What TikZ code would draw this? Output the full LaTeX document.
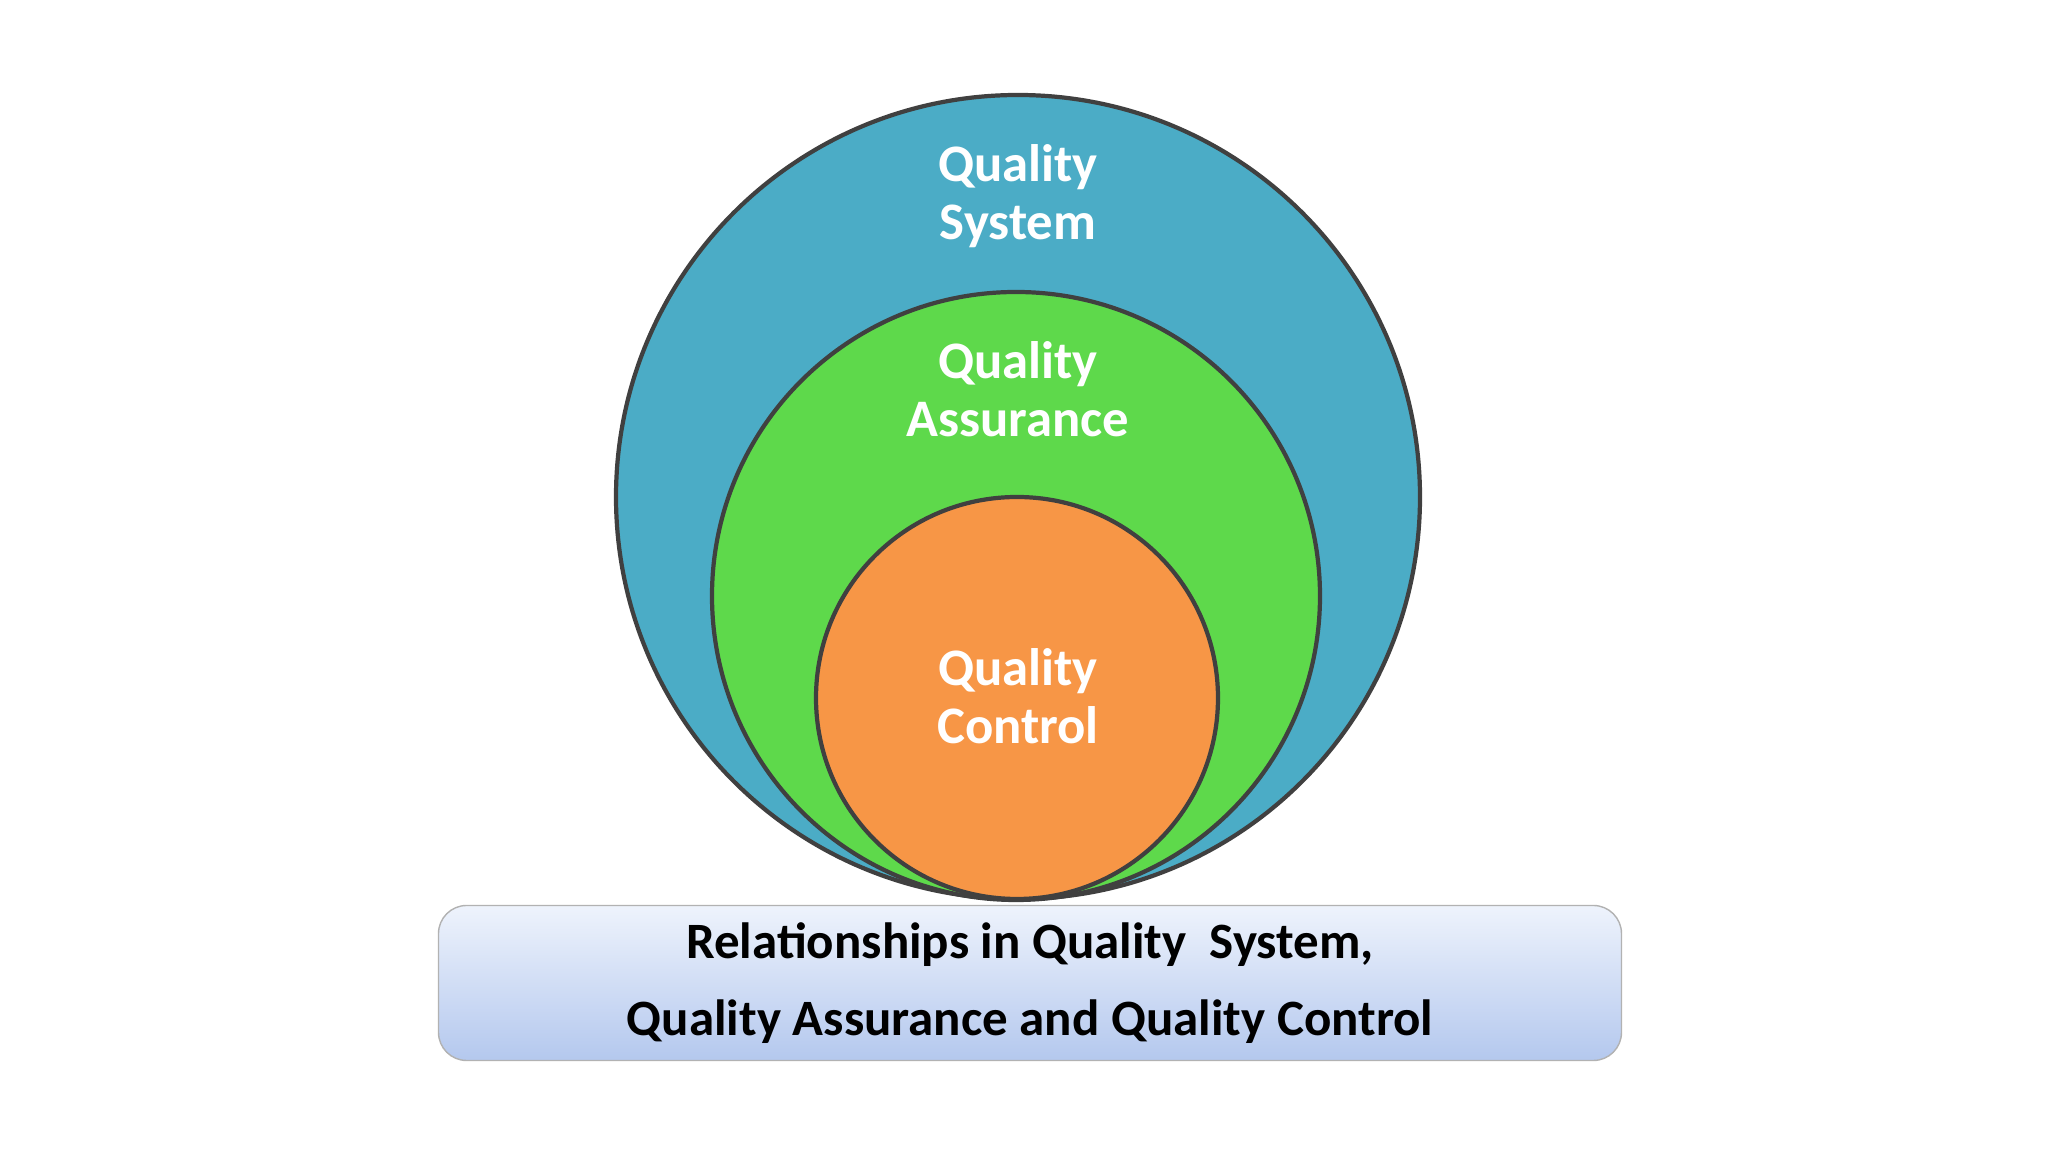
\documentclass[tikz,border=0pt]{standalone}
\usepackage{fontspec}
\setmainfont{Carlito}
\definecolor{qsblue}{HTML}{4BACC6}
\definecolor{qagreen}{HTML}{5ED94B}
\definecolor{qcorange}{HTML}{F79646}
\definecolor{boxtop}{HTML}{EEF3FC}
\definecolor{boxbot}{HTML}{B4C8EE}
\tikzset{
  ring/.style={draw=black!75, line width=1.2pt},
  ringtext/.style={text=white, font=\bfseries\fontsize{15}{16.5}\selectfont, align=center},
  caption/.style={draw=black!30, rounded corners=8pt, top color=boxtop, bottom color=boxbot,
    minimum width=11.83cm, minimum height=1.55cm, align=center,
    font=\bfseries\fontsize{14.5}{22}\selectfont}
}
\begin{document}
\begin{tikzpicture}
  \useasboundingbox (0,0) rectangle (20.48,11.52);
  \fill[white] (0,0) rectangle (20.48,11.52);
  % nested circles
  \draw[ring, fill=qsblue] (10.18,6.55) circle (4.02);
  \draw[ring, fill=qagreen] (10.16,5.56) circle (3.04);
  \draw[ring, fill=qcorange] (10.17,4.54) circle (2.01);
  \node[ringtext] (qs) at (10.18,9.56) {Quality\\System};
  \node[ringtext] (qa) at (10.18,7.63) {Quality\\Assurance};
  \node[ringtext] (qc) at (10.18,4.56) {Quality\\Control};
  % caption box
  \node[caption] (cap) at (10.3,1.69)
    {Relationships in Quality~~System,\\Quality Assurance and Quality Control};
\end{tikzpicture}
\end{document}
